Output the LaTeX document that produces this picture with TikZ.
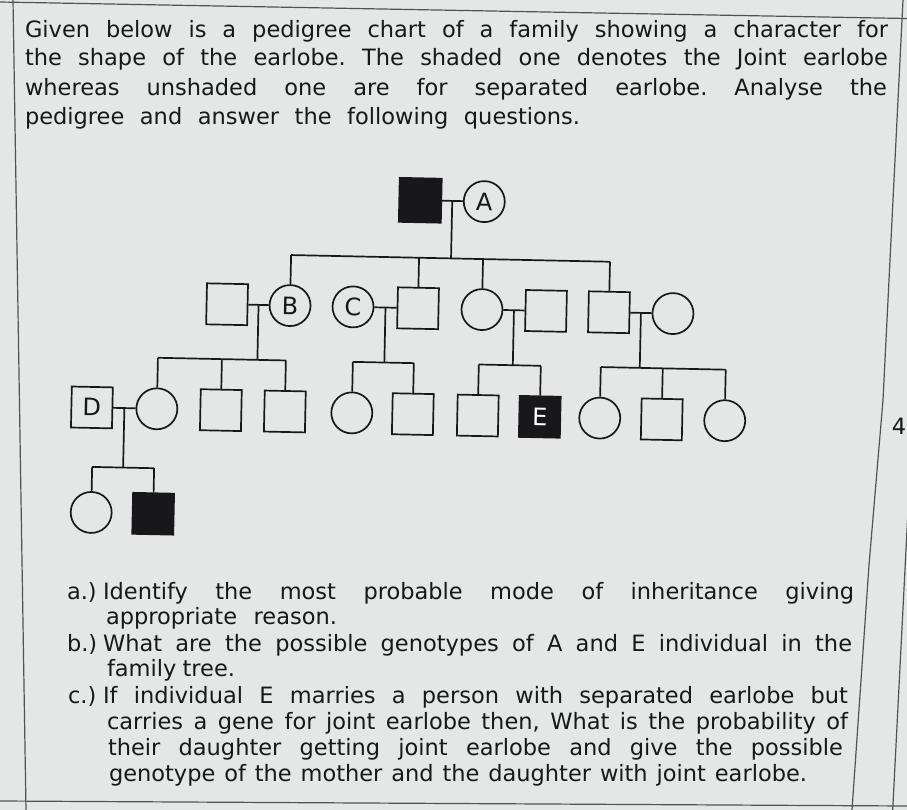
\documentclass[tikz,border=0pt]{standalone}
\usepackage{fontspec}
\setmainfont{DejaVu Sans}
\usetikzlibrary{calc}
\definecolor{paper}{RGB}{229,231,231}
\definecolor{ink}{RGB}{24,24,26}
\definecolor{rule}{RGB}{80,82,84}
\newcommand\jline[2]{\makebox[#1][s]{\spaceskip=0.318em plus 1em minus 0.16em\relax #2}}
\frenchspacing
\begin{document}
\begin{tikzpicture}[x=1pt,y=-1pt,
  txt/.style={anchor=base west, inner sep=0pt, outer sep=0pt, text=ink, font=\fontsize{22.5}{27}\selectfont},
  person/.style={draw=ink, line width=1.7pt, minimum size=41pt, inner sep=0pt, text=ink, font=\fontsize{24}{26}\selectfont},
  sq/.style={person, rectangle},
  ci/.style={person, circle},
  aff/.style={sq, fill=ink, text=white},
  ln/.style={draw=ink, line width=1.7pt},
  bord/.style={draw=rule, line width=1.2pt}
]
\fill[paper] (0,0) rectangle (907,810);
\useasboundingbox (0,0) rectangle (907,810);

% frame of the page
\draw[bord] (0,2) -- (600,13) -- (907,18.5);
\draw[bord] (13,0) -- (26,810);
\draw[bord] (0,801) -- (907,806);
\draw[bord] (903,0) -- (897,120) -- (883,400) -- (869,565) -- (852,810);
\draw[bord] (907.5,520) -- (892.7,810);
\node[txt, anchor=center] (mark) at (899,426) {4};

% introduction
\node[txt] (t1) at (25,37.5) {\jline{863pt}{Given below is a pedigree chart of a family showing a character for}};
\node[txt] (t2) at (25,66) {\jline{863pt}{the shape of the earlobe. The shaded one denotes the Joint earlobe}};
\node[txt] (t3) at (25,95.5) {\jline{862pt}{whereas unshaded one are for separated earlobe. Analyse the}};
\node[txt] (t4) at (25,124.5) {\jline{555pt}{pedigree and answer the following questions.}};

% questions
\node[txt] (qa) at (67,599) {a.)};
\node[txt] (qa1) at (103,599) {\jline{751pt}{Identify the most probable mode of inheritance giving}};
\node[txt] (qa2) at (106,624) {\jline{231pt}{appropriate reason.}};
\node[txt] (qb) at (67,651) {b.)};
\node[txt] (qb1) at (103,651) {\jline{749pt}{What are the possible genotypes of A and E individual in the}};
\node[txt] (qb2) at (107,676.5) {\jline{128pt}{family tree.}};
\node[txt] (qc) at (68,703) {c.)};
\node[txt] (qc1) at (103,703) {\jline{745pt}{If individual E marries a person with separated earlobe but}};
\node[txt] (qc2) at (107,729.5) {\jline{741pt}{carries a gene for joint earlobe then, What is the probability of}};
\node[txt] (qc3) at (108,755) {\jline{735pt}{their daughter getting joint earlobe and give the possible}};
\node[txt] (qc4) at (109,781.5) {\jline{698pt}{genotype of the mother and the daughter with joint earlobe.}};

% pedigree
\begin{scope}[rotate around={-1.2:(453,405)}, transform shape]
  % generation I
  \node[aff, minimum width=42pt, minimum height=44pt] (fa) at (416,201) {};
  \node[ci] (A) at (480,201) {A};
  \coordinate (m1) at (448,201);
  \coordinate (j1) at (448,258.5);
  % generation II
  \node[sq] (S1) at (225,309) {};
  \node[ci] (B) at (288,309) {B};
  \node[ci] (C) at (351,309) {C};
  \node[sq] (S2) at (416,309) {};
  \node[ci] (F2) at (480,309) {};
  \node[sq] (S3) at (544,309) {};
  \node[sq] (M4) at (607,309) {};
  \node[ci] (F4) at (671,309) {};
  \coordinate (jB) at (288,258.5);
  \coordinate (jS2) at (416,258.5);
  \coordinate (jF2) at (480,258.5);
  \coordinate (jM4) at (607,258.5);
  \coordinate (m2) at (256.5,309);
  \coordinate (k2) at (256.5,364);
  \coordinate (m3) at (383.5,309);
  \coordinate (k3) at (383.5,364);
  \coordinate (m4) at (512,309);
  \coordinate (k4) at (512,364);
  \coordinate (m5) at (639,309);
  \coordinate (k5) at (639,364);
  % generation III
  \node[sq] (D) at (92,415) {D};
  \node[ci] (G1) at (157,415) {};
  \node[sq] (Q2) at (221,415) {};
  \node[sq] (Q3) at (285,415) {};
  \node[ci] (R1) at (352,415) {};
  \node[sq] (R2) at (413,415) {};
  \node[sq] (T1) at (478,415) {};
  \node[aff] (E) at (540,415) {E};
  \node[ci] (U1) at (600,415) {};
  \node[sq] (U2) at (662,415) {};
  \node[ci] (U3) at (725,415) {};
  \coordinate (jG1) at (157,364);
  \coordinate (jQ2) at (221,364);
  \coordinate (jQ3) at (285,364);
  \coordinate (jR1) at (352,364);
  \coordinate (jR2) at (413,364);
  \coordinate (jT1) at (478,364);
  \coordinate (jE) at (540,364);
  \coordinate (jU1) at (600,364);
  \coordinate (jU2) at (662,364);
  \coordinate (jU3) at (725,364);
  \coordinate (m6) at (124.5,415);
  \coordinate (k6) at (124.5,474.5);
  % generation IV
  \node[ci] (V1) at (93.5,520) {};
  \node[aff] (V2) at (155.5,520) {};
  \coordinate (jV1) at (93.5,474.5);
  \coordinate (jV2) at (155.5,474.5);

  % connectors
  \draw[ln] (fa) -- (A);
  \draw[ln] (m1) -- (j1);
  \draw[ln] (jB) -- (jM4);
  \draw[ln] (jB) -- (B);
  \draw[ln] (jS2) -- (S2);
  \draw[ln] (jF2) -- (F2);
  \draw[ln] (jM4) -- (M4);

  \draw[ln] (S1) -- (B);
  \draw[ln] (m2) -- (k2);
  \draw[ln] (C) -- (S2);
  \draw[ln] (m3) -- (k3);
  \draw[ln] (F2) -- (S3);
  \draw[ln] (m4) -- (k4);
  \draw[ln] (M4) -- (F4);
  \draw[ln] (m5) -- (k5);

  \draw[ln] (jG1) -- (jQ3);
  \draw[ln] (jG1) -- (G1);
  \draw[ln] (jQ2) -- (Q2);
  \draw[ln] (jQ3) -- (Q3);
  \draw[ln] (jR1) -- (jR2);
  \draw[ln] (jR1) -- (R1);
  \draw[ln] (jR2) -- (R2);
  \draw[ln] (jT1) -- (jE);
  \draw[ln] (jT1) -- (T1);
  \draw[ln] (jE) -- (E);
  \draw[ln] (jU1) -- (jU3);
  \draw[ln] (jU1) -- (U1);
  \draw[ln] (jU2) -- (U2);
  \draw[ln] (jU3) -- (U3);

  \draw[ln] (D) -- (G1);
  \draw[ln] (m6) -- (k6);
  \draw[ln] (jV1) -- (jV2);
  \draw[ln] (jV1) -- (V1);
  \draw[ln] (jV2) -- (V2);
\end{scope}
\end{tikzpicture}
\end{document}
